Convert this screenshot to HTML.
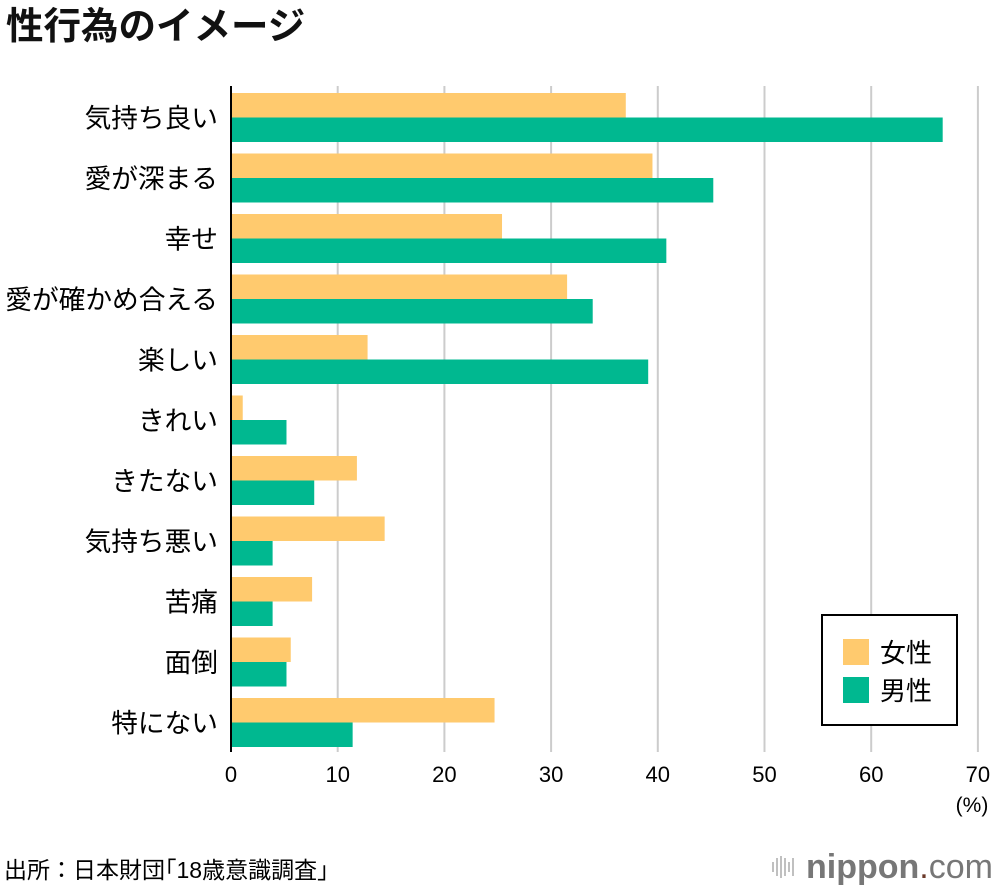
<!DOCTYPE html>
<html><head><meta charset="utf-8"><style>
body{margin:0;background:#fff;width:1000px;height:890px;overflow:hidden;font-family:"Liberation Sans","Noto Sans CJK JP",sans-serif}
text{font-family:"Liberation Sans","Noto Sans CJK JP",sans-serif}
</style></head><body>
<svg id="chart" width="1000" height="890" xmlns="http://www.w3.org/2000/svg">
<text x="6" y="39" font-size="37.5" font-weight="bold" fill="#111">性行為のイメージ</text>
<g id="grid"></g>
<g id="bars"></g>
<g id="labels"></g>
<line x1="231" y1="86" x2="231" y2="752" stroke="#000" stroke-width="2"/>
<text x="972" y="812" font-size="21" text-anchor="middle" fill="#000">(%)</text>
<g>
<rect x="822" y="615" width="135" height="110" fill="#fff" stroke="#000" stroke-width="2"/>
<rect x="843" y="639" width="26" height="26" fill="#FFCA6E"/>
<text x="880" y="662" font-size="26" fill="#000">女性</text>
<rect x="843" y="677" width="26" height="26" fill="#00B890"/>
<text x="880" y="700" font-size="26" fill="#000">男性</text>
</g>
<text x="4" y="878" font-size="23" fill="#000">出所：日本財団｢18歳意識調査｣</text>
<g>
<g stroke="#aaa" stroke-width="1.5">
<line x1="773" y1="862" x2="773" y2="872"/><line x1="777" y1="858" x2="777" y2="876"/><line x1="781" y1="856" x2="781" y2="878"/><line x1="785" y1="858" x2="785" y2="876"/><line x1="789" y1="862" x2="789" y2="872"/><line x1="793" y1="858" x2="793" y2="876"/>
</g>
<text x="806" y="878" font-size="34" font-weight="bold" fill="#777">nippon<tspan font-weight="normal" fill="#6b3a2a">.</tspan><tspan font-weight="normal" fill="#777">com</tspan></text>
</g>
</svg>
<script>
const categories=["気持ち良い","愛が深まる","幸せ","愛が確かめ合える","楽しい","きれい","きたない","気持ち悪い","苦痛","面倒","特にない"];
const female=[37.0,39.5,25.4,31.5,12.8,1.1,11.8,14.4,7.6,5.6,24.7];
const male=[66.7,45.2,40.8,33.9,39.1,5.2,7.8,3.9,3.9,5.2,11.4];
const ticks=[0,10,20,30,40,50,60,70];
const NS="http://www.w3.org/2000/svg";
const x0=231,pxPer=10.67,top0=93,pitch=60.5,bh=24.5;
const xs=v=>x0+v*pxPer;
function mk(t,a,p){const e=document.createElementNS(NS,t);for(const k in a)e.setAttribute(k,a[k]);p.appendChild(e);return e;}
const grid=document.getElementById('grid'),bars=document.getElementById('bars'),labels=document.getElementById('labels');
ticks.forEach(t=>{
 if(t>0){const l=mk('line',{x1:xs(t),x2:xs(t),y1:86,y2:752,stroke:'#ccc','stroke-width':2},grid);
 
 }
 const tx=mk('text',{x:xs(t),y:782,'font-size':22,'text-anchor':'middle',fill:'#000'},labels);
 tx.textContent=t;
 
 
});
categories.forEach((c,i)=>{
 const y=top0+i*pitch;
 const f=mk('rect',{x:x0,y:y,width:xs(female[i])-x0,height:bh,fill:'#FFCA6E'},bars);
 
 
 const m=mk('rect',{x:x0,y:y+bh,width:xs(male[i])-x0,height:bh,fill:'#00B890'},bars);
 
 
 const t=mk('text',{x:218,y:y+bh+10,'font-size':26.7,'text-anchor':'end',fill:'#000'},labels);
 t.textContent=c;
 
 
});
</script>
</body></html>
